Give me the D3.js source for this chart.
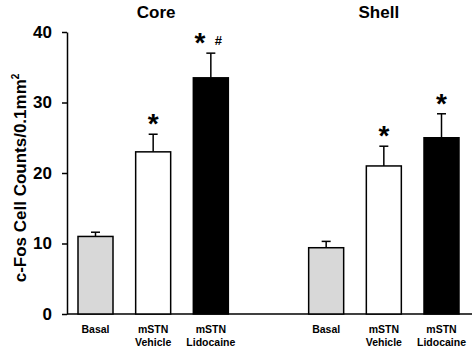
<!DOCTYPE html>
<html>
<head>
<meta charset="utf-8">
<script src="https://cdn.jsdelivr.net/npm/d3@7"></script>
<style>
  body { margin: 0; background: #fff; }
  svg { display: block; font-family: Arial, "Liberation Sans", sans-serif; }
</style>
</head>
<body>
<svg id="chart"></svg>
<script>
const regions = ["Core", "Shell"];
const conditions = [["Basal"], ["mSTN", "Vehicle"], ["mSTN", "Lidocaine"]];
const fills = ["#d8d8d8", "#ffffff", "#000000"];
const coreMeans = [11.0, 23.0, 33.5];
const coreErrors = [0.6, 2.5, 3.5];
const coreMarks = ["", "*", "*#"];
const shellMeans = [9.4, 21.0, 25.0];
const shellErrors = [0.9, 2.8, 3.4];
const shellMarks = ["", "*", "*"];
const yTicks = [0, 10, 20, 30, 40];

const width = 474, height = 352;
const svg = d3.select("#chart").attr("width", width).attr("height", height);

// slots 0-2 core, 3 is the gap, 4-6 shell
const bars = [];
[[coreMeans, coreErrors, coreMarks], [shellMeans, shellErrors, shellMarks]].forEach((g, gi) => {
  g[0].forEach((v, i) => {
    bars.push({ region: regions[gi], slot: gi * 4 + i, cond: i, value: v, err: g[1][i], mark: g[2][i] });
  });
});

const x = d3.scaleLinear().domain([0, 6]).range([95.5, 441.5]);
const y = d3.scaleLinear().domain([0, 40]).range([314, 32]);
const barW = 35;

// y axis
const yAxis = svg.append("g")
  .attr("transform", "translate(67,0)")
  .call(d3.axisLeft(y).tickValues(yTicks).tickSize(5).tickPadding(10).tickSizeOuter(0));
yAxis.select(".domain").attr("stroke", "#000").attr("stroke-width", 1.5);
yAxis.selectAll(".tick line").attr("stroke-width", 1.5);
yAxis.selectAll(".tick text")
  .attr("font-size", 17).attr("font-weight", "bold")
  .attr("font-family", "Arial, 'Liberation Sans', sans-serif").attr("fill", "#000");

// x axis line (no ticks)
svg.append("line")
  .attr("x1", 67).attr("x2", 472)
  .attr("y1", y(0)).attr("y2", y(0))
  .attr("stroke", "#000").attr("stroke-width", 1.5);

// error bars (upper only)
const eb = svg.append("g").attr("stroke", "#000").attr("stroke-width", 1.5);
eb.selectAll(".stem").data(bars).enter().append("line")
  .attr("x1", d => x(d.slot)).attr("x2", d => x(d.slot))
  .attr("y1", d => y(d.value)).attr("y2", d => y(d.value + d.err));
eb.selectAll(".cap").data(bars).enter().append("line")
  .attr("x1", d => x(d.slot) - 4.5).attr("x2", d => x(d.slot) + 4.5)
  .attr("y1", d => y(d.value + d.err)).attr("y2", d => y(d.value + d.err));

// bars
svg.selectAll(".bar").data(bars).enter().append("rect")
  .attr("x", d => x(d.slot) - barW / 2)
  .attr("y", d => y(d.value))
  .attr("width", barW)
  .attr("height", d => y(0) - y(d.value))
  .attr("fill", d => fills[d.cond])
  .attr("stroke", "#000").attr("stroke-width", 1.5);

// significance marks
bars.filter(d => d.mark).forEach(d => {
  svg.append("text")
    .attr("x", x(d.slot) - (d.mark.length > 1 ? 11 : 0))
    .attr("y", y(d.value + d.err) - 1)
    .attr("text-anchor", "middle")
    .attr("font-weight", "bold").attr("font-size", 28)
    .text("*");
  if (d.mark.includes("#")) {
    svg.append("text")
      .attr("x", x(d.slot) + 7.5)
      .attr("y", y(d.value + d.err) - 8)
      .attr("text-anchor", "middle")
      .attr("font-weight", "bold").attr("font-size", 13)
      .text("#");
  }
});

// category labels
bars.forEach(d => {
  const t = svg.append("text")
    .attr("x", x(d.slot)).attr("y", 333)
    .attr("text-anchor", "middle")
    .attr("font-weight", "bold").attr("font-size", 10.5);
  conditions[d.cond].forEach((line, li) => {
    t.append("tspan").attr("x", x(d.slot)).attr("dy", li === 0 ? 0 : 12.5).text(line);
  });
});

// region titles
regions.forEach((r, gi) => {
  svg.append("text")
    .attr("x", x(gi * 4 + 1) + (gi === 0 ? 3 : -5)).attr("y", 18)
    .attr("text-anchor", "middle")
    .attr("font-weight", "bold").attr("font-size", 17)
    .text(r);
});

// y label
const yl = svg.append("text")
  .attr("transform", `translate(26,${(32 + 314) / 2 + 5}) rotate(-90)`)
  .attr("text-anchor", "middle")
  .attr("font-weight", "bold").attr("font-size", 17)
  .text("c-Fos Cell Counts/0.1mm");
yl.append("tspan").attr("dy", -7).attr("font-size", 10).text("2");
</script>
</body>
</html>
